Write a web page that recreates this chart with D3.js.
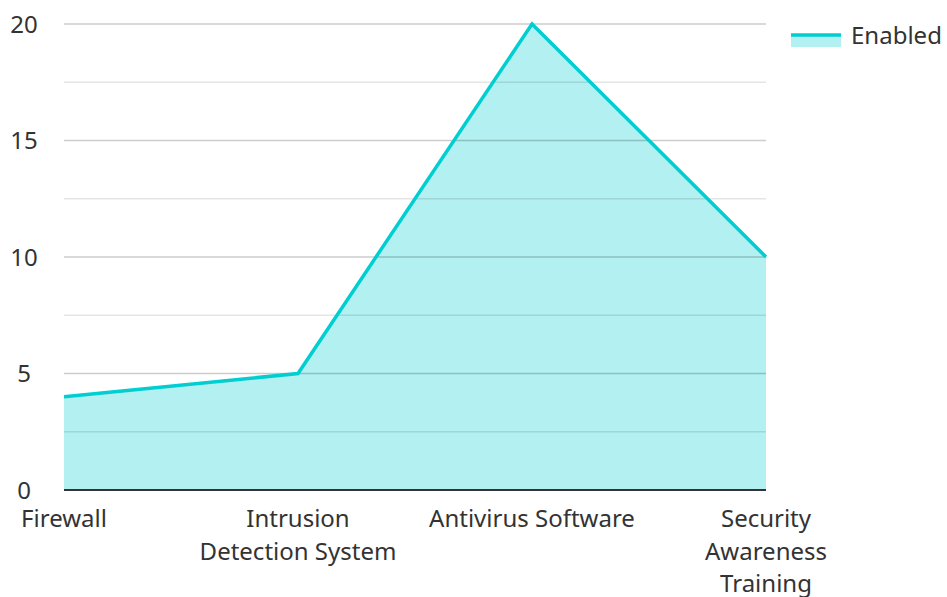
<!DOCTYPE html>
<html><head><meta charset="utf-8">
<script src="https://cdn.jsdelivr.net/npm/d3@7"></script>
<style>body{margin:0;background:#fff}svg{display:block}text{font-family:"Noto Sans",sans-serif;fill:#333}</style>
</head><body><svg id="c" width="947" height="597"></svg>
<script>
const categories = ["Firewall", "Intrusion Detection System", "Antivirus Software", "Security Awareness Training"];
const labelLines = [["Firewall"], ["Intrusion", "Detection System"], ["Antivirus Software"], ["Security", "Awareness", "Training"]];
const values = [4, 5, 20, 10];
const seriesName = "Enabled";
const majorTicks = [0, 5, 10, 15, 20];
const minorTicks = [2.5, 7.5, 12.5, 17.5];

const svg = d3.select("#c");
const L = 64, R = 766, T = 24, B = 490;
const x = d3.scalePoint().domain(categories).range([L, R]);
const y = d3.scaleLinear().domain([0, 20]).range([B, T]);
const color = "#00CED1";
const fs = 24;

const data = categories.map((c, i) => ({c, v: values[i]}));
svg.append("path").datum(data)
  .attr("d", d3.area().x(d => x(d.c)).y0(y(0)).y1(d => y(d.v)))
  .attr("fill", color).attr("fill-opacity", 0.3);

svg.append("g").selectAll("line").data(minorTicks).join("line")
  .attr("x1", L).attr("x2", R).attr("y1", d => y(d)).attr("y2", d => y(d))
  .attr("stroke", "#000").attr("stroke-opacity", 0.1).attr("stroke-width", 1.5);
svg.append("g").selectAll("line").data(majorTicks.filter(d => d > 0)).join("line")
  .attr("x1", L).attr("x2", R).attr("y1", d => y(d)).attr("y2", d => y(d))
  .attr("stroke", "#000").attr("stroke-opacity", 0.2).attr("stroke-width", 1.5);

svg.append("path").datum(data)
  .attr("d", d3.line().x(d => x(d.c)).y(d => y(d.v)))
  .attr("fill", "none").attr("stroke", color).attr("stroke-width", 3.5);

svg.append("line").attr("x1", L).attr("x2", R).attr("y1", B).attr("y2", B)
  .attr("stroke", "#333").attr("stroke-width", 2);

svg.append("g").selectAll("text").data(majorTicks).join("text")
  .attr("x", 24).attr("y", d => y(d) + 8.5).attr("text-anchor", "middle")
  .attr("font-size", fs).text(d => d);

const xl = svg.append("g");
categories.forEach((c, i) => {
  const t = xl.append("text").attr("x", x(c)).attr("y", 527)
    .attr("text-anchor", "middle").attr("font-size", fs);
  labelLines[i].forEach((ln, j) => {
    t.append("tspan").attr("x", x(c)).attr("dy", j === 0 ? 0 : 32.5).text(ln);
  });
});

svg.append("rect").attr("x", 791).attr("y", 34).attr("width", 50).attr("height", 13)
  .attr("fill", color).attr("fill-opacity", 0.3);
svg.append("line").attr("x1", 791).attr("x2", 841).attr("y1", 35).attr("y2", 35)
  .attr("stroke", color).attr("stroke-width", 3.5);
svg.append("text").attr("x", 851).attr("y", 44).attr("font-size", fs).text(seriesName);
</script></body></html>
